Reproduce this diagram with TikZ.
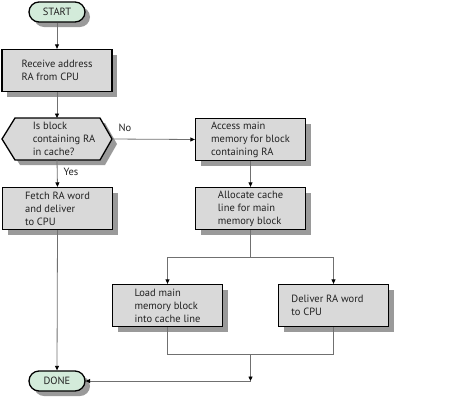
\documentclass[tikz,border=0pt]{standalone}
\usepackage{fontspec}
\setmainfont{PT Sans}
\usetikzlibrary{shadows,arrows.meta,calc,backgrounds}
\definecolor{boxgray}{HTML}{D9D9D9}
\definecolor{shadowgray}{HTML}{9A9A9A}
\definecolor{termgreen}{HTML}{D3EBDA}
\definecolor{linegray}{HTML}{707070}
\definecolor{txt}{HTML}{222222}
\begin{document}
\begin{tikzpicture}[x=1pt,y=-1pt,
  shad/.style={drop shadow={shadow xshift=5pt,shadow yshift=-5pt,fill=shadowgray,opacity=1}},
  box/.style={draw=black,line width=1.3pt,fill=boxgray,minimum width=110pt,minimum height=42pt,
    align=left,inner sep=0pt,text=txt,font=\fontsize{10.5}{13}\selectfont,shad},
  term/.style={draw=black,line width=1.3pt,fill=termgreen,rounded corners=10pt,minimum width=56pt,
    minimum height=20pt,inner sep=0pt,text=txt,font=\fontsize{10.5}{13}\selectfont,shad},
  lbl/.style={text=txt,font=\fontsize{10.5}{13}\selectfont,inner sep=0pt},
  conn/.style={draw=linegray,line width=0.8pt},
  arr/.style={conn,-{Triangle[length=4.5pt,width=4pt,color=black]}}]
\useasboundingbox (0,0) rectangle (474,408);

\node[term] (start) at (57,12) {START};
\node[box] (recv) at (57,70.5) {Receive address\\RA from CPU};

% decision hexagon
\coordinate (decW) at (2,139);
\coordinate (decE) at (112,139);
\coordinate (decN) at (57,118);
\coordinate (decS) at (57,160);
\fill[shadowgray] ($(decW)+(5,5)$) -- (20,123) -- (105,123) -- (117,144) -- (105,165) -- (20,165) -- cycle;
\draw[draw=black,line width=1.3pt,fill=boxgray] (decW) -- (15,118) -- (100,118) -- (decE) -- (100,160) -- (15,160) -- cycle;
\node[lbl,align=left] (dec) at (64,139) {Is block\\containing RA\\in cache?};

\node[box] (fetch) at (57.5,208.5) {Fetch RA word\\and deliver\\to CPU};
\node[box] (access) at (250.5,139.5) {Access main\\memory for block\\containing RA};
\node[box] (alloc) at (250.5,208.5) {Allocate cache\\line for main\\memory block};
\node[box] (load) at (167.5,305.5) {Load main\\memory block\\into cache line};
\node[box] (deliver) at (333.5,305.5) {\hspace*{-12pt}Deliver RA word\\\hspace*{-12pt}to CPU};
\node[term] (done) at (57,381) {DONE};

\node[lbl] (no) at (125,128) {No};
\node[lbl] (yes) at (71,172) {Yes};

\draw[arr] (start.south) -- (recv.north);
\draw[arr] (recv.south) -- (decN);
\draw[arr] (decS) -- (fetch.north);
\draw[arr] (decE) -- (access.west);
\draw[arr] (access.south) -- (alloc.north);
\draw[arr] (fetch.south) -- (done.north);

\coordinate (split) at (250.5,257);
\draw[conn] (alloc.south) -- (split);
\draw[arr] (split) -| (load.north);
\draw[arr] (split) -| (deliver.north);

\coordinate (merge) at (250.5,354);
\coordinate (corner) at (250.5,381);
\draw[conn] (load.south) |- (merge);
\draw[conn] (deliver.south) |- (merge);
\draw[arr] (merge) -- (corner);
\draw[arr] (corner) -- (done.east);
\end{tikzpicture}
\end{document}
